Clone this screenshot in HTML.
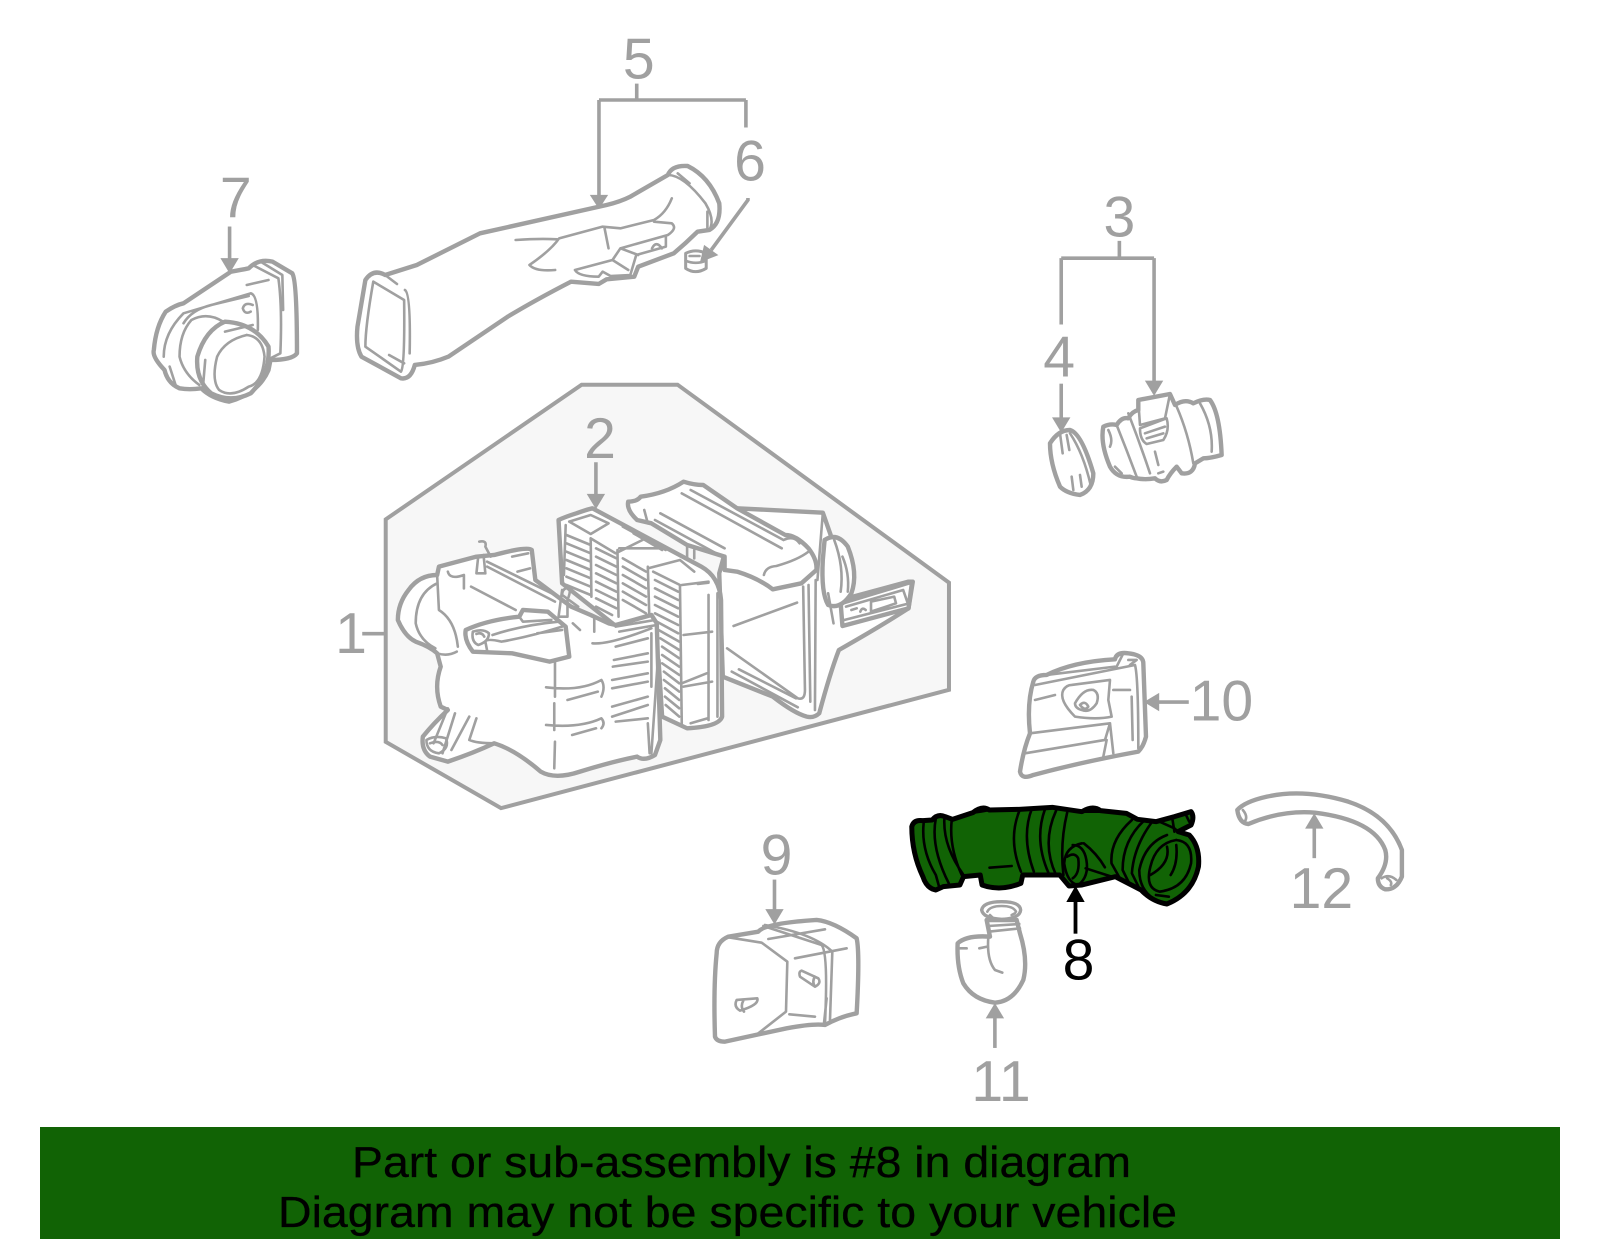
<!DOCTYPE html>
<html><head><meta charset="utf-8"><style>
html,body{margin:0;padding:0;background:#fff}
svg{display:block}
svg *{vector-effect:non-scaling-stroke}
.o{fill:#fff;stroke:#a0a0a0;stroke-width:4.4;stroke-linejoin:round;stroke-linecap:round}
.t{fill:none;stroke:#a0a0a0;stroke-width:2.6;stroke-linejoin:round;stroke-linecap:round}
.c{fill:none;stroke:#a0a0a0;stroke-width:3.6}
.a{fill:#a0a0a0}
.n{font-family:"Liberation Sans",sans-serif;font-size:56px;fill:#a0a0a0;text-anchor:middle}
.go{fill:#116305;stroke:#000;stroke-width:5;stroke-linejoin:round;stroke-linecap:round}
.gt{fill:none;stroke:#000;stroke-width:2.6;stroke-linecap:round;stroke-linejoin:round}
.b{font-family:"Liberation Sans",sans-serif;font-size:44px;fill:#000;stroke:#000;stroke-width:.3}
</style></head><body>
<svg width="1600" height="1249" viewBox="0 0 1600 1249" xmlns="http://www.w3.org/2000/svg">
<rect width="1600" height="1249" fill="#fff"/>

<g transform="scale(1.0204)">
<polygon points="378,509 570,377 664,377 930,571 930,676 491,792 378,727" fill="#f7f7f7" stroke="#a0a0a0" stroke-width="4"/>
</g>

<!-- air box -->
<g transform="translate(380 460) scale(.3571 .3333)">
<path class="o" d="M1000,145 L1240,158 L1262,225 L1290,420 L1480,365 L1492,365 L1480,445 Q1400,500 1285,570 Q1260,640 1230,760 Q1215,775 1195,770 Q1160,760 1100,710 L960,650 L950,340Z"/>
<path class="t" d="M1185,380 L1190,690 Q1190,722 1170,715 L972,565 M990,498 L1168,428 M1200,375 L1205,725 M1220,360 L1218,750 M985,635 L1170,742 M1005,628 L1165,715 M1240,160 L1225,360"/>
<path class="o" d="M1290,430 L1490,365 L1480,445 L1295,498Z"/>
<path class="t" d="M1305,440 L1465,390 L1478,430 M1300,480 L1475,432 M1375,425 L1440,410 L1445,430 L1375,455Z M1320,450 L1335,445 M1345,455 Q1350,440 1360,450"/>
<path class="o" d="M1245,240 Q1280,215 1310,260 Q1340,340 1320,400 Q1290,450 1255,435 Q1235,400 1240,300Z"/>
<path class="t" d="M1272,240 Q1300,320 1290,395 M1295,290 Q1315,340 1310,395 M1255,400 L1270,490"/>
<path class="o" d="M695,125 Q720,125 730,110 Q800,100 850,65 Q880,75 905,75 L1000,145 L1135,225 Q1165,225 1200,265 Q1225,300 1222,330 L1180,370 L1100,388 Q1060,355 1000,335 L965,330 L965,290 L860,255 L760,190 L720,180 Q690,150 695,125Z"/>
<path class="t" d="M845,100 L1125,265 M870,90 L1130,240 M785,160 L965,265 M770,180 L950,285 M1075,345 Q1080,320 1110,318 Q1170,300 1200,275 M860,258 L860,292 M880,270 L880,295 M740,150 L750,190 M1130,240 Q1160,225 1175,250"/>
<path class="o" d="M500,180 Q520,170 550,160 Q575,150 595,145 L900,320 Q950,350 955,420 L958,770 Q950,800 860,805 L790,770 L780,600 L510,370Z"/>
<path class="t" d="M520,195 L515,345 M590,235 L660,280 L735,240 M530,185 L590,165 L640,190 L590,222 L530,185 M590,235 L592,410 M665,270 L668,470 M750,320 L755,500 M670,265 L800,265 M750,325 L840,300 L880,335 M765,335 L840,375 L845,790 M845,375 L920,365 M890,372 L920,368 M920,405 L920,780 M945,400 L945,770 M850,525 L930,515 M845,670 L915,640 M850,680 L930,665 M870,790 L918,775 M680,200 L800,270 M710,220 L790,270"/>
<path class="t" d="M522,225 L590,255 M522,250 L590,280 M522,275 L590,305 M522,300 L590,330 M522,325 L590,355 M522,350 L590,380 M522,375 L590,405 M605,265 L662,295 M605,290 L662,320 M605,315 L662,345 M605,340 L662,370 M605,365 L662,395 M605,390 L662,420 M605,415 L662,445 M605,440 L650,465 M680,295 L745,335 M680,320 L745,360 M680,345 L745,385 M680,370 L745,410 M680,395 L745,435 M680,420 L745,460 M770,360 L835,395 M770,385 L835,420 M770,410 L835,445 M770,435 L835,470 M770,460 L835,495 M775,485 L835,520 M780,510 L838,545 M785,535 L838,570 M790,560 L838,595 M790,585 L838,620 M790,610 L838,645 M795,635 L838,670 M795,660 L838,695 M798,685 L838,720 M798,710 L838,745 M800,735 L838,770"/>
<path class="o" d="M160,345 Q110,345 80,390 Q50,430 50,480 Q70,530 100,545 Q140,560 160,580 L170,620 Q150,680 170,740 L190,750 Q150,790 120,830 Q115,870 140,890 L190,905 Q260,880 320,850 Q380,870 450,935 Q490,960 560,935 Q650,905 720,890 Q740,905 770,885 L785,840 L775,490 L760,465 L660,495 L640,490 L590,465 L535,440 L435,360 L425,270 Q415,258 320,285 L270,290 L165,320Z"/>
<path class="t" d="M160,345 L165,450 Q210,480 218,560 M160,370 Q100,400 100,490 Q110,540 155,565 M215,575 Q190,590 160,580 M190,335 Q195,360 235,345 L235,385 M255,380 L380,450 M300,305 L500,410 M300,320 L490,425 M370,290 L415,280 M385,335 L420,325 M278,245 Q300,240 295,260 L310,290 M275,290 L270,340 L295,340 L290,285 M510,390 L500,470 L525,470 L525,420 Q540,380 520,385 Q510,390 510,405 L555,440 M490,605 L490,710 M488,730 L488,810 M490,845 L488,925 M465,682 Q560,695 620,660 Q632,680 620,710 M525,720 L610,695 M465,795 Q560,805 620,775 Q632,790 620,805 M538,825 L605,805 M595,550 Q640,555 760,505 M660,560 L750,535 M655,600 L750,580 M652,620 L750,605 M650,660 L750,640 M650,685 L750,665 M650,740 L750,710 M650,770 L750,735 M660,785 L750,775 M760,520 L760,680 M778,600 L760,880 M750,790 L755,880 M660,500 L770,480 M670,515 L775,495 M600,475 L600,515 M190,745 L150,850 M210,760 L175,880 M250,770 L200,870 M270,775 L250,840 Q270,850 320,850 M540,490 L560,510"/>
<path class="o" d="M240,510 Q300,480 390,470 L400,450 L470,455 L520,500 L530,590 L475,605 L370,580 L260,575 Q235,540 240,510Z"/>
<path class="t" d="M390,470 L400,485 L480,480 M315,525 Q400,495 500,485 M295,545 Q300,535 340,545 Q420,530 510,500 M295,545 L300,572 M440,520 L510,510 M260,515 Q290,505 305,520 Q305,545 275,555 Q255,545 260,515Z M270,522 Q285,515 292,530"/>
<path class="t" d="M130,840 Q155,825 185,835 Q195,865 165,880 Q130,875 130,840Z M140,850 Q165,840 175,855"/>
</g>

<!-- 5, 6, 7 -->
<g transform="translate(140 140) scale(.3954 .3333)">
<path class="o" d="M230,395 Q255,390 275,385 Q300,355 335,365 L385,400 Q397,420 397,640 Q385,660 330,660 L325,690 Q300,760 225,785 Q180,775 155,745 Q125,750 100,745 Q70,730 62,690 Q30,650 35,630 Q40,560 65,515 Q90,495 110,490Z"/>
<path class="t" d="M270,435 L325,420 M285,375 L350,415 Q360,500 355,640 L330,655 M305,365 L360,405 L362,510 M60,650 Q60,580 110,520 L280,460 Q300,465 298,570 M110,550 Q130,510 180,495 L275,468 M210,545 Q170,515 130,540 Q100,580 100,650 Q110,700 150,735 M285,495 Q265,485 260,505 Q265,525 280,515 M75,680 L90,735"/>
<path class="o" d="M215,545 Q290,550 325,620 Q330,700 280,760 Q230,790 180,760 Q140,720 145,650 Q165,570 215,545Z"/>
<path class="t" d="M270,585 Q310,590 315,650 Q310,730 275,740 Q230,775 200,750 Q180,720 195,650 Q215,600 270,585 M215,575 L285,555 M165,660 L160,730"/>
<path class="o" d="M620,405 Q660,390 700,375 L860,280 L1180,195 Q1215,185 1240,170 L1335,105 Q1345,75 1385,78 Q1440,110 1465,190 Q1470,250 1440,270 L1410,275 Q1380,310 1350,340 L1260,380 L1250,410 L1180,418 L1160,432 L1090,425 Q1000,480 930,530 L780,650 Q740,670 695,675 Q685,720 660,715 L560,650 Q545,620 550,560 L570,420 Q590,385 620,405Z"/>
<path class="t" d="M590,425 Q570,560 570,620 L660,695 Q670,680 668,480Z M670,450 Q685,460 682,640 M630,645 L668,670 M620,405 L650,432 M1335,105 Q1375,105 1430,190 Q1455,240 1440,270 M1360,100 L1390,130 M1435,215 L1435,270 M1345,175 Q1330,220 1300,240 L1215,265 L1170,260 L1060,295 Q1040,330 985,375 Q1000,395 1050,390 M950,300 Q1010,295 1055,298 M1300,245 L1345,250 Q1360,265 1335,285 L1215,325 L1195,360 L1100,390 Q1110,410 1160,410 L1170,395 L1190,408 L1240,405 L1255,345 L1330,320 L1330,290 M1175,265 L1185,325 M1215,325 L1260,345 M1195,360 L1235,390 M1295,325 Q1305,300 1320,325"/>
<path class="o" style="stroke-width:3" d="M1380,340 Q1405,325 1432,340 L1432,385 Q1405,405 1380,385Z"/>
<path class="t" d="M1380,362 Q1405,375 1432,362 M1390,348 L1415,348"/>
</g>

<!-- 3, 4, 10 -->
<g transform="translate(1000 370) scale(.3333)">
<path class="o" d="M150,220 Q175,180 210,180 Q245,190 280,310 Q280,360 240,375 Q200,370 180,350 Q150,280 150,220Z"/>
<path class="t" d="M210,190 Q250,250 272,345 M180,190 L188,250 M200,195 L208,240 M215,320 L220,360 M240,315 L245,350"/>
<path class="o" d="M415,90 L510,72 L525,105 Q555,85 580,100 Q610,85 630,90 Q660,130 665,255 Q630,265 610,265 L585,280 Q580,315 545,310 L530,290 Q510,310 500,330 Q480,340 465,325 Q435,330 410,325 Q400,325 390,320 Q350,325 330,290 Q300,220 310,170 Q330,160 350,165 Q365,140 385,145 Q395,125 415,120Z"/>
<path class="t" d="M415,95 L420,165 L495,145 L510,72 M420,175 L500,145 Q510,180 490,210 L440,222 Q420,210 420,175Z M435,190 L495,170 M440,205 L490,190 M600,100 Q640,170 635,245 M530,110 Q565,190 580,280 M350,165 Q380,240 410,320 M385,130 Q420,220 450,310 M325,180 Q340,210 330,230 M465,245 L475,285 M345,290 L365,310 M475,310 L490,305"/>
<path class="o" d="M100,935 Q105,915 140,915 Q220,875 345,868 Q350,845 385,850 Q430,855 430,880 L438,1100 Q430,1130 415,1145 Q250,1175 100,1215 Q65,1230 60,1205 Q70,1140 90,1090 Q80,1000 100,935Z"/>
<path class="t" d="M105,945 L405,885 Q415,920 415,1135 M140,915 L345,890 M350,890 L370,850 M385,870 L410,870 L390,885 M105,990 L165,975 M340,960 L390,960 M395,980 L398,1110 M90,1090 L330,1060 L340,1150 M75,1150 L315,1110 L330,1060 M310,1160 L320,1110"/>
<path class="t" d="M215,945 L330,930 L325,990 L335,1040 Q290,1050 225,1040 Q175,990 190,960 Q200,945 215,945Z"/>
<path class="t" d="M225,1000 Q250,955 280,960 Q300,970 290,1000 Q270,1030 245,1020 Q225,1015 225,1000Z M240,1005 Q255,990 265,1010 Q255,1025 240,1005"/>
</g>

<!-- 9, 11 -->
<g transform="translate(700 820) scale(.3333)">
<path class="o" d="M50,400 Q50,365 85,350 L175,335 Q195,310 350,300 Q400,305 470,355 Q480,400 470,580 Q420,590 375,615 Q340,610 260,625 L75,665 Q50,665 45,650 Q40,500 50,400Z"/>
<path class="t" d="M85,352 L185,368 L262,425 L258,575 L175,640 M190,318 L365,375 Q385,400 375,610 M195,315 Q340,340 397,395 L390,600 M205,357 L375,328 M285,415 L440,385 M268,583 L345,590 M380,535 L372,610"/>
<path class="t" d="M305,452 L355,475 Q365,490 345,500 L300,470 Q295,455 305,452Z M345,470 Q335,485 345,500 M110,540 L172,535 Q178,555 120,572 Q100,560 110,540Z M130,542 Q120,560 132,575"/>
<path class="o" d="M860,300 L870,350 Q800,345 773,370 Q770,440 790,490 Q820,540 885,548 Q940,545 970,480 Q985,420 960,340 L950,300Z"/>
<path class="o" style="stroke-width:3.4" d="M845,270 Q850,245 905,245 Q960,245 962,270 Q960,295 905,298 Q850,295 845,270Z"/>
<path class="t" d="M862,275 Q870,258 905,258 Q940,258 948,275 M870,285 L880,295 M935,285 L945,280 M865,318 L958,312 M865,335 L960,325 M865,352 Q860,420 885,450 L907,458 M780,385 L800,385 M838,385 L862,380"/>
</g>

<!-- 8 + 12 -->
<g transform="translate(860 760) scale(.3699 .3333)">
<path class="go" d="M140,200 Q145,178 170,182 L195,180 Q210,160 230,170 L250,178 L305,158 Q330,135 350,150 L430,148 L520,142 L600,155 Q630,135 650,152 L720,160 L750,178 L800,185 L850,170 L895,155 Q905,170 895,195 L860,215 L890,225 Q920,260 915,320 Q900,400 830,432 Q790,425 760,390 L690,350 L600,375 L565,378 L540,345 L440,345 L435,370 Q380,395 330,375 L325,345 L280,350 L270,375 L225,380 L205,390 Q180,385 170,350 Q140,280 140,200Z"/>
<path class="gt" d="M172,190 Q165,270 205,345 L215,385 M205,175 Q190,260 240,370 M228,178 Q225,260 280,345 M248,180 Q240,260 275,345 M430,155 Q400,240 435,335 M465,145 Q435,230 470,335 M500,148 Q470,240 510,340 M530,152 Q490,250 530,345 M560,158 Q540,250 550,345 M350,323 L410,318 M305,158 Q330,155 350,150 M600,155 L650,155 M810,185 L850,205 L860,215 M845,180 L850,215 M880,162 L890,185"/>
<path class="gt" d="M600,250 Q555,260 552,310 Q560,370 590,375 Q620,350 612,300 Q605,255 575,255 M560,290 Q580,275 590,295 Q595,340 575,355 M605,250 Q640,280 662,322 M610,325 L680,350"/>
<path class="gt" d="M735,180 Q675,240 680,310 L700,350 M770,180 Q710,240 710,330 L730,375 M790,185 Q740,260 735,340 L755,385"/>
<path class="gt" d="M830,225 Q770,250 755,330 Q755,400 810,425 M855,240 Q900,245 895,310 Q880,385 810,395 Q770,385 785,320 Q800,250 855,240 M830,260 Q840,310 785,345 M855,255 Q860,310 840,345 M800,405 L835,410"/>
<path class="o" d="M1020,150 Q1040,125 1100,110 Q1200,85 1320,125 Q1430,165 1465,270 L1465,350 Q1450,390 1420,388 Q1400,380 1400,355 Q1430,310 1420,270 Q1390,180 1230,158 Q1140,150 1050,192 Q1025,190 1020,150Z"/>
<path class="t" d="M1035,150 Q1050,170 1040,185 M1410,355 Q1430,340 1450,360 M1425,355 Q1440,365 1435,375"/>
</g>

<g transform="scale(1.0204)">
<!-- connectors -->
<path class="c" d="M624,82 V98 M587,98 H731 M587,98 V192 M731,98 V125 M733,194 V196 L697,245"/>
<polygon class="a" points="578,191 596,191 587,205"/>
<polygon class="a" points="690,240 704,250 686,257"/>
<path class="c" d="M225,222 V255"/>
<polygon class="a" points="216,253 234,253 225,268"/>
<path class="c" d="M1097,236 V253 M1040,253 H1131 M1040,253 V318 M1131,253 V374"/>
<polygon class="a" points="1122,373 1140,373 1131,388"/>
<path class="c" d="M1040,376 V411"/>
<polygon class="a" points="1031,409 1049,409 1040,424"/>
<path class="c" d="M584,453 V486"/>
<polygon class="a" points="575,484 593,484 584,499"/>
<path class="c" d="M355,621 H378 M1165,688 H1135"/>
<polygon class="a" points="1136,679 1136,697 1121,688"/>
<path class="c" d="M759,862 V893"/>
<polygon class="a" points="750,891 768,891 759,906"/>
<path class="c" d="M975,1027 V996"/>
<polygon class="a" points="966,998 984,998 975,983"/>
<path class="c" d="M1288,841 V810"/>
<polygon class="a" points="1279,812 1297,812 1288,797"/>
<path d="M1054,915 V882" fill="none" stroke="#000" stroke-width="3.8"/>
<polygon points="1045,884 1063,884 1054,868" fill="#000"/>

<!-- labels -->
<text class="n" x="626" y="77">5</text>
<text class="n" x="735" y="177">6</text>
<text class="n" x="231" y="213">7</text>
<text class="n" x="1097" y="232">3</text>
<text class="n" x="1038" y="369">4</text>
<text class="n" x="588" y="449">2</text>
<text class="n" x="344" y="640">1</text>
<text class="n" x="1197" y="706">10</text>
<text class="n" x="761" y="857">9</text>
<text class="n" x="1057" y="960" style="fill:#000">8</text>
<text class="n" x="1295" y="890">12</text>
<text class="n" x="981" y="1079">11</text>
</g>

<!-- banner -->
<rect x="40" y="1127" width="1520" height="112" fill="#116305"/>
<text class="b" x="352" y="1177" textLength="779" lengthAdjust="spacingAndGlyphs">Part or sub-assembly is #8 in diagram</text>
<text class="b" x="278" y="1227" textLength="899" lengthAdjust="spacingAndGlyphs">Diagram may not be specific to your vehicle</text>
</svg>
</body></html>
